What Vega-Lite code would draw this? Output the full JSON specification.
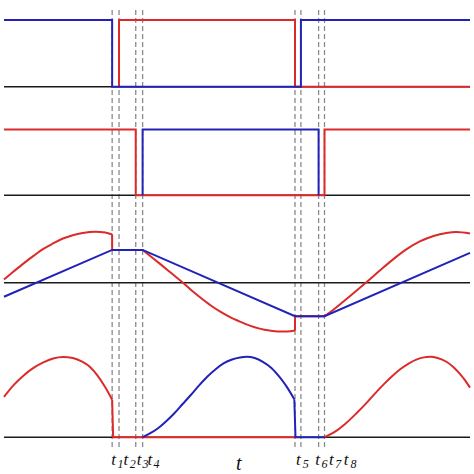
{
  "$schema": "https://vega.github.io/schema/vega-lite/v6.json",
  "width": 474,
  "height": 474,
  "padding": 0,
  "autosize": {"type": "fit", "contains": "padding"},
  "background": "white",
  "config": {"view": {"stroke": null}},
  "datasets": {
    "vl": [{"x":110,"y":10,"y2":450},{"x":117,"y":10,"y2":450},{"x":134,"y":10,"y2":450},{"x":141,"y":10,"y2":450},{"x":296,"y":10,"y2":450},{"x":302,"y":10,"y2":450},{"x":320,"y":10,"y2":450},{"x":326,"y":10,"y2":450}],
    "base": [{"x":0,"x2":474,"y":87},{"x":0,"x2":474,"y":196},{"x":0,"x2":474,"y":284},{"x":0,"x2":474,"y":439}],
    "sig": [
      {"s":"p1b","c":"b","k":"l","x":0,"y":20},{"s":"p1b","c":"b","k":"l","x":110,"y":20},{"s":"p1b","c":"b","k":"l","x":110,"y":87},{"s":"p1b","c":"b","k":"l","x":302,"y":87},{"s":"p1b","c":"b","k":"l","x":302,"y":20},{"s":"p1b","c":"b","k":"l","x":474,"y":20},
      {"s":"p1r","c":"r","k":"l","x":117,"y":87},{"s":"p1r","c":"r","k":"l","x":117,"y":20},{"s":"p1r","c":"r","k":"l","x":296,"y":20},{"s":"p1r","c":"r","k":"l","x":296,"y":87},{"s":"p1r","c":"r","k":"l","x":474,"y":87},
      {"s":"p2r","c":"r","k":"l","x":0,"y":130},{"s":"p2r","c":"r","k":"l","x":134,"y":130},{"s":"p2r","c":"r","k":"l","x":134,"y":196},{"s":"p2r","c":"r","k":"l","x":326,"y":196},{"s":"p2r","c":"r","k":"l","x":326,"y":130},{"s":"p2r","c":"r","k":"l","x":474,"y":130},
      {"s":"p2b","c":"b","k":"l","x":141,"y":196},{"s":"p2b","c":"b","k":"l","x":141,"y":130},{"s":"p2b","c":"b","k":"l","x":320,"y":130},{"s":"p2b","c":"b","k":"l","x":320,"y":196},
      {"s":"p3b","c":"b","k":"l","x":0,"y":298},{"s":"p3b","c":"b","k":"l","x":110,"y":251},{"s":"p3b","c":"b","k":"l","x":141,"y":251},{"s":"p3b","c":"b","k":"l","x":296,"y":317.5},{"s":"p3b","c":"b","k":"l","x":326,"y":317.5},{"s":"p3b","c":"b","k":"l","x":474,"y":254},
      {"s":"p3ra","c":"r","k":"m","x":0,"y":280.7},{"s":"p3ra","c":"r","k":"m","x":10,"y":272.5},{"s":"p3ra","c":"r","k":"m","x":20,"y":264.5},{"s":"p3ra","c":"r","k":"m","x":30,"y":257},{"s":"p3ra","c":"r","k":"m","x":40,"y":250},{"s":"p3ra","c":"r","k":"m","x":50,"y":244.5},{"s":"p3ra","c":"r","k":"m","x":60,"y":239.5},{"s":"p3ra","c":"r","k":"m","x":70,"y":236.2},{"s":"p3ra","c":"r","k":"m","x":80,"y":234},{"s":"p3ra","c":"r","k":"m","x":93,"y":232.7},{"s":"p3ra","c":"r","k":"m","x":103,"y":233.4},{"s":"p3ra","c":"r","k":"m","x":110,"y":235.5},
      {"s":"p3rs1","c":"r","k":"l","x":110,"y":235.5},{"s":"p3rs1","c":"r","k":"l","x":110,"y":251},{"s":"p3rs1","c":"r","k":"l","x":141,"y":251},
      {"s":"p3rb","c":"r","k":"m","x":141,"y":251},{"s":"p3rb","c":"r","k":"m","x":150,"y":258},{"s":"p3rb","c":"r","k":"m","x":160,"y":266},{"s":"p3rb","c":"r","k":"m","x":171,"y":275},{"s":"p3rb","c":"r","k":"m","x":182,"y":284},{"s":"p3rb","c":"r","k":"m","x":190,"y":291},{"s":"p3rb","c":"r","k":"m","x":200,"y":299},{"s":"p3rb","c":"r","k":"m","x":210,"y":306.5},{"s":"p3rb","c":"r","k":"m","x":220,"y":313},{"s":"p3rb","c":"r","k":"m","x":230,"y":318.5},{"s":"p3rb","c":"r","k":"m","x":240,"y":323},{"s":"p3rb","c":"r","k":"m","x":250,"y":327},{"s":"p3rb","c":"r","k":"m","x":260,"y":330},{"s":"p3rb","c":"r","k":"m","x":270,"y":332},{"s":"p3rb","c":"r","k":"m","x":280,"y":333},{"s":"p3rb","c":"r","k":"m","x":288,"y":333},{"s":"p3rb","c":"r","k":"m","x":296,"y":332},
      {"s":"p3rs2","c":"r","k":"l","x":296,"y":332},{"s":"p3rs2","c":"r","k":"l","x":296,"y":317.5},{"s":"p3rs2","c":"r","k":"l","x":326,"y":317.5},
      {"s":"p3rc","c":"r","k":"m","x":326,"y":317.5},{"s":"p3rc","c":"r","k":"m","x":335,"y":311},{"s":"p3rc","c":"r","k":"m","x":345,"y":303},{"s":"p3rc","c":"r","k":"m","x":356,"y":294},{"s":"p3rc","c":"r","k":"m","x":368,"y":284},{"s":"p3rc","c":"r","k":"m","x":382,"y":272},{"s":"p3rc","c":"r","k":"m","x":397,"y":259.5},{"s":"p3rc","c":"r","k":"m","x":410,"y":250},{"s":"p3rc","c":"r","k":"m","x":423,"y":242.5},{"s":"p3rc","c":"r","k":"m","x":437,"y":237},{"s":"p3rc","c":"r","k":"m","x":450,"y":234},{"s":"p3rc","c":"r","k":"m","x":460,"y":233},{"s":"p3rc","c":"r","k":"m","x":474,"y":234.5},
      {"s":"p4ra","c":"r","k":"m","x":0,"y":398.5},{"s":"p4ra","c":"r","k":"m","x":10,"y":386.5},{"s":"p4ra","c":"r","k":"m","x":20,"y":377},{"s":"p4ra","c":"r","k":"m","x":30,"y":369.5},{"s":"p4ra","c":"r","k":"m","x":40,"y":364},{"s":"p4ra","c":"r","k":"m","x":50,"y":360},{"s":"p4ra","c":"r","k":"m","x":60,"y":358.5},{"s":"p4ra","c":"r","k":"m","x":70,"y":359.5},{"s":"p4ra","c":"r","k":"m","x":80,"y":363.5},{"s":"p4ra","c":"r","k":"m","x":88,"y":369},{"s":"p4ra","c":"r","k":"m","x":95,"y":377},{"s":"p4ra","c":"r","k":"m","x":103,"y":389},{"s":"p4ra","c":"r","k":"m","x":110,"y":401.5},
      {"s":"p4rs","c":"r","k":"l","x":110,"y":401.5},{"s":"p4rs","c":"r","k":"l","x":111,"y":439},{"s":"p4rs","c":"r","k":"l","x":296,"y":439},
      {"s":"p4b","c":"b","k":"m","x":141,"y":439},{"s":"p4b","c":"b","k":"m","x":148,"y":435.5},{"s":"p4b","c":"b","k":"m","x":156.7,"y":430},{"s":"p4b","c":"b","k":"m","x":165,"y":423},{"s":"p4b","c":"b","k":"m","x":173.3,"y":415},{"s":"p4b","c":"b","k":"m","x":181.5,"y":406},{"s":"p4b","c":"b","k":"m","x":190,"y":396.7},{"s":"p4b","c":"b","k":"m","x":198,"y":387.5},{"s":"p4b","c":"b","k":"m","x":206.7,"y":378.3},{"s":"p4b","c":"b","k":"m","x":215,"y":371},{"s":"p4b","c":"b","k":"m","x":223.3,"y":365},{"s":"p4b","c":"b","k":"m","x":232,"y":361},{"s":"p4b","c":"b","k":"m","x":240,"y":359},{"s":"p4b","c":"b","k":"m","x":247,"y":358.3},{"s":"p4b","c":"b","k":"m","x":255,"y":359.5},{"s":"p4b","c":"b","k":"m","x":263.3,"y":363.3},{"s":"p4b","c":"b","k":"m","x":272,"y":369.5},{"s":"p4b","c":"b","k":"m","x":280,"y":378.3},{"s":"p4b","c":"b","k":"m","x":288,"y":389},{"s":"p4b","c":"b","k":"m","x":295.3,"y":401},
      {"s":"p4bs","c":"b","k":"l","x":295.3,"y":401},{"s":"p4bs","c":"b","k":"l","x":296.5,"y":439},{"s":"p4bs","c":"b","k":"l","x":326,"y":439},
      {"s":"p4rc","c":"r","k":"m","x":326,"y":439},{"s":"p4rc","c":"r","k":"m","x":336,"y":434},{"s":"p4rc","c":"r","k":"m","x":346.7,"y":426},{"s":"p4rc","c":"r","k":"m","x":358,"y":415.5},{"s":"p4rc","c":"r","k":"m","x":370,"y":403.3},{"s":"p4rc","c":"r","k":"m","x":378,"y":394.5},{"s":"p4rc","c":"r","k":"m","x":386.7,"y":385.5},{"s":"p4rc","c":"r","k":"m","x":395,"y":377.5},{"s":"p4rc","c":"r","k":"m","x":403.3,"y":370.5},{"s":"p4rc","c":"r","k":"m","x":412,"y":364.8},{"s":"p4rc","c":"r","k":"m","x":420,"y":360.9},{"s":"p4rc","c":"r","k":"m","x":427,"y":358.9},{"s":"p4rc","c":"r","k":"m","x":433.3,"y":358.3},{"s":"p4rc","c":"r","k":"m","x":441,"y":359.5},{"s":"p4rc","c":"r","k":"m","x":450,"y":363.3},{"s":"p4rc","c":"r","k":"m","x":457,"y":368.5},{"s":"p4rc","c":"r","k":"m","x":463.3,"y":375},{"s":"p4rc","c":"r","k":"m","x":469,"y":382},{"s":"p4rc","c":"r","k":"m","x":474,"y":389.3}
    ],
    "tl": [{"x":109,"y":467,"tx":"t"},{"x":121.5,"y":467,"tx":"t"},{"x":135,"y":467,"tx":"t"},{"x":146,"y":467,"tx":"t"},{"x":297,"y":467,"tx":"t"},{"x":316.5,"y":467,"tx":"t"},{"x":330.5,"y":467,"tx":"t"},{"x":345.5,"y":467,"tx":"t"}],
    "sub": [{"x":115.5,"y":469.5,"tx":"1"},{"x":128,"y":469.5,"tx":"2"},{"x":141,"y":469.5,"tx":"3"},{"x":152,"y":469.5,"tx":"4"},{"x":304,"y":469.5,"tx":"5"},{"x":323,"y":469.5,"tx":"6"},{"x":337,"y":469.5,"tx":"7"},{"x":352.5,"y":469.5,"tx":"8"}],
    "ax": [{"x":236,"y":472,"tx":"t"}]
  },
  "encoding": {
    "x": {"field": "x", "type": "quantitative", "scale": {"domain": [0, 474], "nice": false, "zero": false}, "axis": null},
    "y": {"field": "y", "type": "quantitative", "scale": {"domain": [474, 0], "nice": false, "zero": false}, "axis": null}
  },
  "layer": [
    {"data": {"name": "vl"}, "mark": {"type": "rule", "color": "#8a8a8a", "strokeWidth": 1.3, "strokeDash": [5, 3]}, "encoding": {"y2": {"field": "y2"}}},
    {"data": {"name": "base"}, "mark": {"type": "rule", "color": "#1a1a1a", "strokeWidth": 1.5}, "encoding": {"x2": {"field": "x2"}}},
    {"data": {"name": "sig"}, "transform": [{"filter": "datum.c === 'r' && datum.k === 'l'"}], "mark": {"type": "line", "color": "#dc2a2a", "strokeWidth": 2, "interpolate": "linear"}, "encoding": {"detail": {"field": "s"}, "order": {"value": null}}},
    {"data": {"name": "sig"}, "transform": [{"filter": "datum.c === 'r' && datum.k === 'm'"}], "mark": {"type": "line", "color": "#dc2a2a", "strokeWidth": 2, "interpolate": "monotone"}, "encoding": {"detail": {"field": "s"}, "order": {"value": null}}},
    {"data": {"name": "sig"}, "transform": [{"filter": "datum.c === 'b' && datum.k === 'l'"}], "mark": {"type": "line", "color": "#2222b8", "strokeWidth": 2, "interpolate": "linear"}, "encoding": {"detail": {"field": "s"}, "order": {"value": null}}},
    {"data": {"name": "sig"}, "transform": [{"filter": "datum.c === 'b' && datum.k === 'm'"}], "mark": {"type": "line", "color": "#2222b8", "strokeWidth": 2, "interpolate": "monotone"}, "encoding": {"detail": {"field": "s"}, "order": {"value": null}}},
    {"data": {"name": "tl"}, "mark": {"type": "text", "font": "Liberation Serif", "fontStyle": "italic", "fontSize": 17, "align": "left", "baseline": "alphabetic", "color": "#111"}, "encoding": {"text": {"field": "tx"}}},
    {"data": {"name": "sub"}, "mark": {"type": "text", "font": "Liberation Serif", "fontStyle": "italic", "fontSize": 12, "align": "left", "baseline": "alphabetic", "color": "#111"}, "encoding": {"text": {"field": "tx"}}},
    {"data": {"name": "ax"}, "mark": {"type": "text", "font": "Liberation Serif", "fontStyle": "italic", "fontSize": 20, "align": "left", "baseline": "alphabetic", "color": "#111"}, "encoding": {"text": {"field": "tx"}}}
  ]
}
